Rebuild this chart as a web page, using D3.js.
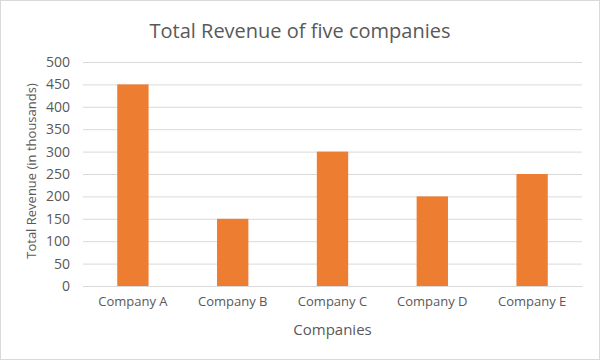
<!DOCTYPE html>
<html><head><meta charset="utf-8">
<script src="https://cdn.jsdelivr.net/npm/d3@7"></script>
<style>html,body{margin:0;padding:0;background:#fff;}</style>
</head><body>
<svg id="chart" width="600" height="360"></svg>
<script>
const categories = ["Company A", "Company B", "Company C", "Company D", "Company E"];
const revenue = [450, 150, 300, 200, 250];
const yTicks = [0, 50, 100, 150, 200, 250, 300, 350, 400, 450, 500];
const title = "Total Revenue of five companies";
const xTitle = "Companies";
const yTitle = "Total Revenue (in thousands)";

const svg = d3.select("#chart");
const W = 600, H = 360;
const m = {left: 83, right: 18, top: 62, bottom: 74};
const font = "'Open Sans', 'Liberation Sans', sans-serif";

svg.append("rect").attr("x", 0.5).attr("y", 0.5).attr("width", W - 1).attr("height", H - 1)
  .attr("fill", "#fff").attr("stroke", "#d9d9d9");

const x = d3.scaleBand().domain(categories).range([m.left, W - m.right])
  .paddingInner(0.686).paddingOuter(0.343);
const y = d3.scaleLinear().domain([0, 500]).range([H - m.bottom, m.top]);

// gridlines
const yAxis = d3.axisLeft(y).tickValues(yTicks).tickSize(-(W - m.left - m.right)).tickPadding(13).tickFormat(d3.format("d"));
const gy = svg.append("g").attr("transform", `translate(${m.left},0)`).call(yAxis);
gy.select(".domain").remove();
gy.selectAll(".tick line").attr("stroke", "#d9d9d9").attr("stroke-width", 1);
gy.selectAll(".tick text").attr("fill", "#595959").attr("font-size", 14).attr("font-family", font);

// bars
svg.append("g").selectAll("rect").data(revenue).join("rect")
  .attr("x", (d, i) => x(categories[i]))
  .attr("y", d => y(d))
  .attr("width", x.bandwidth())
  .attr("height", d => y(0) - y(d))
  .attr("fill", "#ED7D31");

// x axis
const gx = svg.append("g").attr("transform", `translate(0,${y(0)})`)
  .call(d3.axisBottom(x).tickSize(0).tickPadding(11));
gx.select(".domain").attr("stroke", "#d9d9d9");
gx.selectAll(".tick text").attr("fill", "#595959").attr("font-size", 13).attr("font-family", font);

// titles
svg.append("text").attr("x", 300).attr("y", 38).attr("text-anchor", "middle")
  .attr("font-family", font).attr("font-size", 20).attr("fill", "#595959").text(title);
svg.append("text").attr("x", (m.left + W - m.right) / 2).attr("y", 335).attr("text-anchor", "middle")
  .attr("font-family", font).attr("font-size", 15).attr("fill", "#595959").text(xTitle);
svg.append("text").attr("transform", `translate(36,171) rotate(-90)`).attr("text-anchor", "middle")
  .attr("font-family", font).attr("font-size", 13).attr("fill", "#595959").text(yTitle);
</script>
</body></html>
